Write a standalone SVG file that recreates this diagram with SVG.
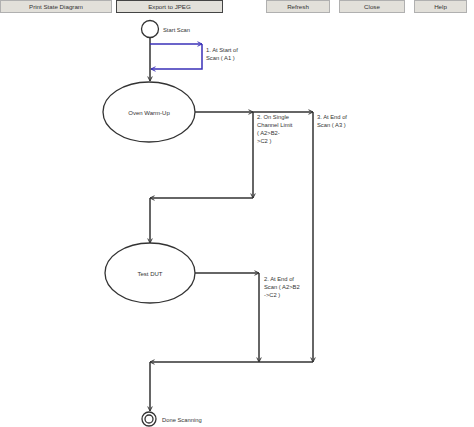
<svg xmlns="http://www.w3.org/2000/svg" width="474" height="427" viewBox="0 0 474 427">
<defs>
<style>
.btn rect{fill:#e2e0da;stroke:#b0b0b0;stroke-width:1}
.btn text{font-family:"Liberation Sans",Arial,sans-serif;font-size:6.2px;fill:#333;text-anchor:middle}
.lbl{font-family:"Liberation Sans",Arial,sans-serif;font-size:5.8px;fill:#333}
.btnx rect{stroke:#444}
.node{fill:#fff;stroke:#333;stroke-width:1.3}
.ntext{font-family:"Liberation Sans",Arial,sans-serif;font-size:6px;fill:#333;text-anchor:middle}
.edge{fill:none;stroke:#333;stroke-width:1.5}
.blue{fill:none;stroke:#3a30b8;stroke-width:1.5}
</style>
<marker id="ah" viewBox="0 0 8 8" refX="7" refY="4" markerWidth="6" markerHeight="6" orient="auto" markerUnits="userSpaceOnUse">
<path d="M1,1 L7,4 L1,7" fill="none" stroke="#333" stroke-width="1.3"/>
</marker>
<marker id="ahb" viewBox="0 0 8 8" refX="7" refY="4" markerWidth="6" markerHeight="6" orient="auto" markerUnits="userSpaceOnUse">
<path d="M1,1 L7,4 L1,7" fill="none" stroke="#3a30b8" stroke-width="1.3"/>
</marker>
</defs>
<rect width="474" height="427" fill="#fff"/>
<g id="toolbar">
<g class="btn"><rect x="0.5" y="0.5" width="111" height="12"/><text x="56" y="9">Print State Diagram</text></g>
<g class="btn btnx"><rect x="116.5" y="0.5" width="106" height="12"/><text x="169.5" y="9">Export to JPEG</text></g>
<g class="btn"><rect x="266.5" y="0.5" width="63" height="12"/><text x="298" y="9">Refresh</text></g>
<g class="btn"><rect x="339.5" y="0.5" width="65" height="12"/><text x="372" y="9">Close</text></g>
<g class="btn"><rect x="414.5" y="0.5" width="52" height="12"/><text x="440.5" y="9">Help</text></g>
</g>
<g id="connectors">
<path class="edge" d="M150,37 V81" marker-end="url(#ah)"/>
<path class="blue" d="M150,44 H202" marker-end="url(#ahb)"/>
<path class="blue" d="M202,44 V69 H151" marker-end="url(#ahb)"/>
<path class="edge" d="M195,112 H253" marker-end="url(#ah)"/>
<path class="edge" d="M253,112 H313" marker-end="url(#ah)"/>
<path class="edge" d="M253,112 V198" marker-end="url(#ah)"/>
<path class="edge" d="M253,198 H150" marker-end="url(#ah)"/>
<path class="edge" d="M150,198 V243" marker-end="url(#ah)"/>
<path class="edge" d="M313,112 V362" marker-end="url(#ah)"/>
<path class="edge" d="M195,273 H259" marker-end="url(#ah)"/>
<path class="edge" d="M259,273 V362" marker-end="url(#ah)"/>
<path class="edge" d="M313,362 H150" marker-end="url(#ah)"/>
<path class="edge" d="M150,362 V411" marker-end="url(#ah)"/>
<text class="lbl" x="206" y="52">1. At Start of</text>
<text class="lbl" x="206" y="60">Scan ( A1 )</text>
<text class="lbl" x="257" y="119">2. On Single</text>
<text class="lbl" x="257" y="127">Channel Limit</text>
<text class="lbl" x="257" y="135">( A2&gt;B2-</text>
<text class="lbl" x="257" y="143">&gt;C2 )</text>
<text class="lbl" x="317" y="119">3. At End of</text>
<text class="lbl" x="317" y="127">Scan ( A3 )</text>
<text class="lbl" x="264" y="281">2. At End of</text>
<text class="lbl" x="264" y="289">Scan ( A2&gt;B2</text>
<text class="lbl" x="264" y="297">-&gt;C2 )</text>
</g>
<g id="start">
<circle class="node" cx="150" cy="29" r="8.5"/>
<text class="lbl" x="163" y="32">Start Scan</text>
</g>
<g id="oven">
<ellipse class="node" cx="149" cy="112" rx="46" ry="30"/>
<text class="ntext" x="149" y="115">Oven Warm-Up</text>
</g>
<g id="test">
<ellipse class="node" cx="150" cy="273" rx="45" ry="30"/>
<text class="ntext" x="150" y="276">Test DUT</text>
</g>
<g id="done">
<circle class="node" cx="149" cy="419" r="7"/>
<circle class="node" cx="149" cy="419" r="4"/>
<text class="lbl" x="162" y="422">Done Scanning</text>
</g>
</svg>
